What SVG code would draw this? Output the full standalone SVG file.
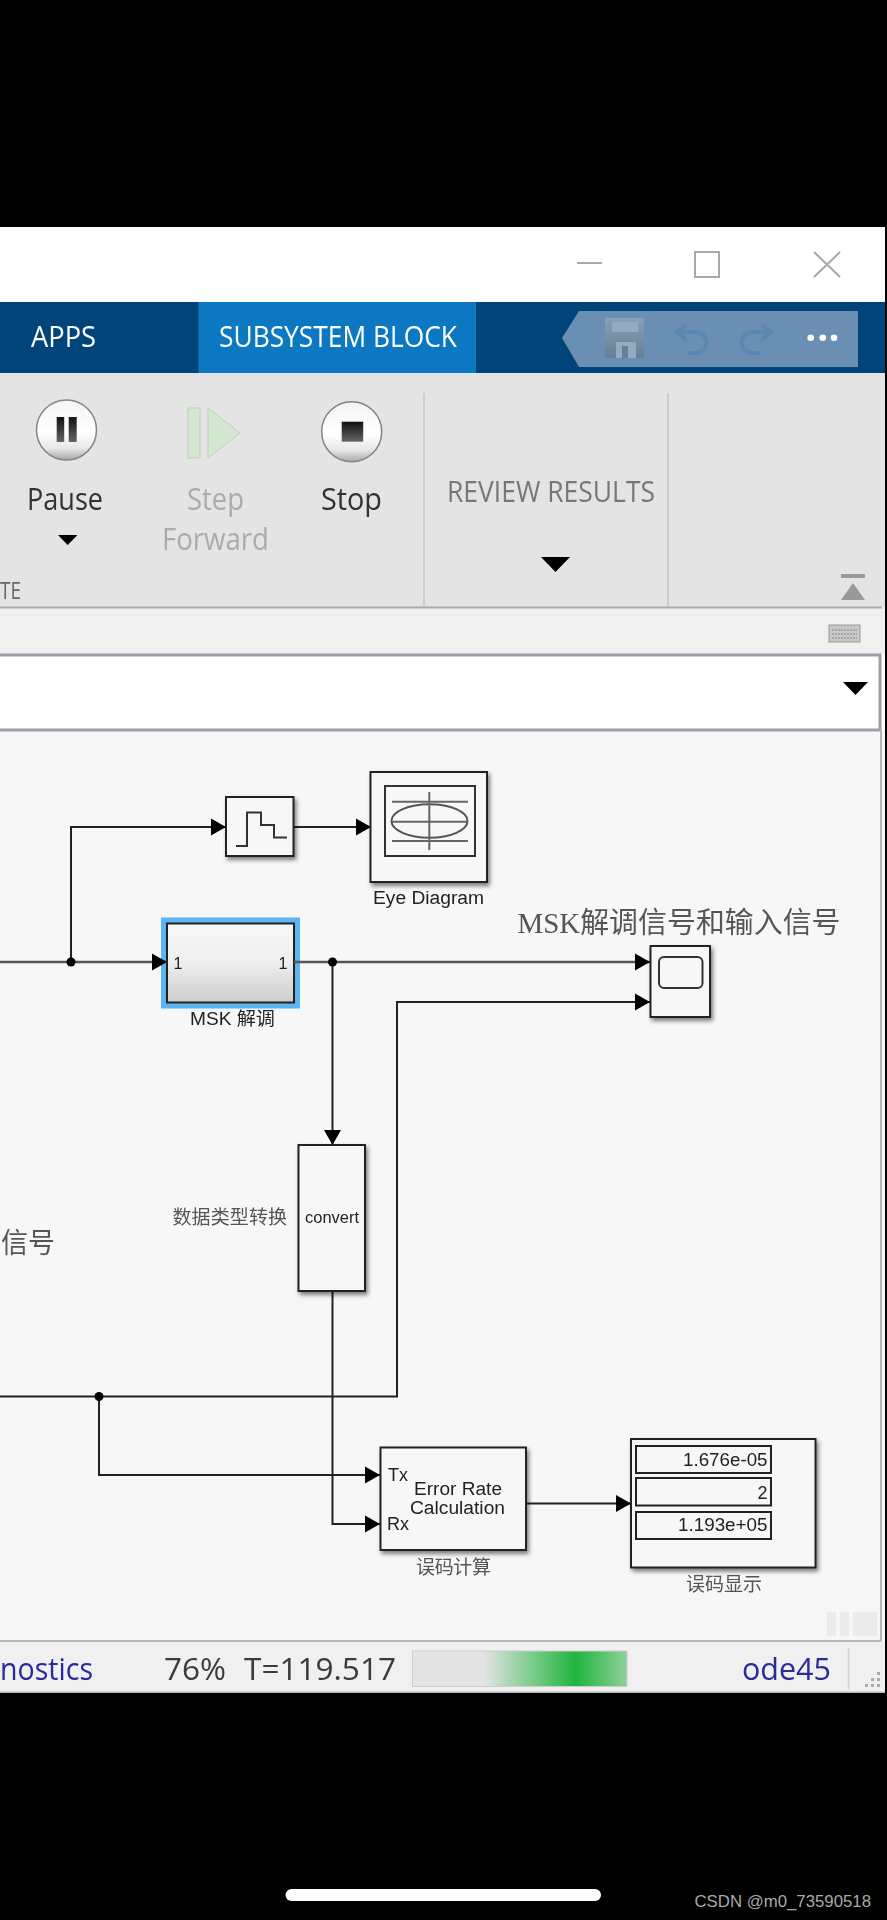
<svg xmlns="http://www.w3.org/2000/svg" width="887" height="1920" viewBox="0 0 887 1920">
<defs>
<style>
.ui{font-family:"Open Sans","Liberation Sans",sans-serif;}
.ar{font-family:"Liberation Sans","Noto Sans CJK SC",sans-serif;fill:#222;}
.se{font-family:"Liberation Serif","Noto Sans CJK SC",serif;fill:#555;}
.blk{fill:#f7f7f7;stroke:#222;stroke-width:2;filter:url(#sh);}
.w{fill:none;stroke:#222;stroke-width:2;}
.wg{fill:none;stroke:#555;stroke-width:2.600;}
.dot{fill:#000;}
</style>
<filter id="soft" x="0" y="0" width="100%" height="100%" filterUnits="objectBoundingBox"><feGaussianBlur stdDeviation="0.75"/></filter>
<filter id="sh" x="-15%" y="-15%" width="130%" height="130%"><feDropShadow dx="2" dy="3" stdDeviation="2" flood-color="#000" flood-opacity="0.5"/></filter>
<marker id="ah" markerUnits="userSpaceOnUse" markerWidth="16" markerHeight="18" refX="15" refY="9" orient="auto"><path d="M0 0.500L15 9L0 17.500Z" fill="#000"/></marker>
<linearGradient id="msk" x1="0" y1="0" x2="0" y2="1"><stop offset="0" stop-color="#f8f8f8"/><stop offset="0.5" stop-color="#eee"/><stop offset="1" stop-color="#ccc"/></linearGradient>
<linearGradient id="btn" x1="0" y1="0" x2="0" y2="1"><stop offset="0" stop-color="#f4f4f4"/><stop offset="0.55" stop-color="#fff"/><stop offset="0.8" stop-color="#e8e8e8"/><stop offset="1" stop-color="#a8a8a8"/></linearGradient>
<linearGradient id="dk" x1="0" y1="0" x2="0" y2="1"><stop offset="0" stop-color="#111"/><stop offset="1" stop-color="#666"/></linearGradient>
<linearGradient id="sv" x1="0" y1="0" x2="0" y2="1"><stop offset="0" stop-color="#86a1b8"/><stop offset="1" stop-color="#667f92"/></linearGradient>
<linearGradient id="prog" x1="0" y1="0" x2="1" y2="0"><stop offset="0" stop-color="#e4e4e4"/><stop offset="0.33" stop-color="#e4e4e4"/><stop offset="0.76" stop-color="#1fb53d"/><stop offset="1" stop-color="#8ed09b"/></linearGradient>
</defs>
<rect width="887" height="1920" fill="#000"/>
<g filter="url(#soft)">
<g id="window-bg">
<rect x="0" y="227" width="885" height="75" fill="#fff"/>
<rect x="0" y="302" width="885" height="71" fill="#04457a"/>
<rect x="198.500" y="302" width="277.500" height="71" fill="#0a78c2"/>
<rect x="0" y="373" width="885" height="234" fill="#e4e4e4"/>
<rect x="0" y="607" width="885" height="47" fill="#f0f0f0"/>
<rect x="0" y="654" width="885" height="76" fill="#fff"/>
<rect x="0" y="730" width="885" height="911" fill="#f7f7f7"/>
<rect x="0" y="1641" width="885" height="52" fill="#f0f0f0"/>
<path d="M0 607.500H882" stroke="#aaa" stroke-width="2"/>
<path d="M0 655H880V730H0" fill="none" stroke="#9aa0a8" stroke-width="3"/>
<path d="M881 730V1641M0 1641H881M0 1692.500H885" fill="none" stroke="#b5b5b5" stroke-width="2"/>
<path d="M424 393V607M668 393V607" stroke="#c4c4c4" stroke-width="1.500"/>
</g>
<g id="window-controls" fill="none" stroke="#a8a8a8" stroke-width="2">
<path d="M577 263H602"/>
<rect x="695" y="252" width="24" height="25"/>
<path d="M814 252L840 277M840 252L814 277"/>
</g>
<g id="tabs">
<text class="ui" x="31" y="347" font-size="30" fill="#fff" textLength="65" lengthAdjust="spacingAndGlyphs">APPS</text>
<text class="ui" x="219" y="347" font-size="30" fill="#fff" textLength="238" lengthAdjust="spacingAndGlyphs">SUBSYSTEM BLOCK</text>
</g>
<g id="quick-access">
<path d="M562 338L579 311H858V367H579Z" fill="#6a8fb2"/>
<path d="M605 318H644V358H605Z" fill="url(#sv)"/>
<rect x="612" y="322" width="26" height="10" fill="#93acc2"/>
<rect x="616" y="342" width="20" height="16" fill="#93acc2"/>
<rect x="622" y="346" width="6" height="12" fill="#667f92"/>
<path d="M678 332H696A10.500 10.500 0 0 1 696 353H688M686 325L677 332L686 340" fill="none" stroke="#5a88b0" stroke-width="4"/>
<path d="M770 332H752A10.500 10.500 0 0 0 752 353H760M762 325L771 332L762 340" fill="none" stroke="#5a88b0" stroke-width="4"/>
<circle cx="810.700" cy="337.700" r="3.300" fill="#fff"/><circle cx="822.700" cy="337.700" r="3.300" fill="#fff"/><circle cx="834" cy="337.700" r="3.300" fill="#fff"/>
</g>
<g id="pause-button">
<circle cx="66.500" cy="430" r="30" fill="url(#btn)" stroke="#858585" stroke-width="1.500"/>
<rect x="56.700" y="417" width="7.500" height="25" fill="url(#dk)"/>
<rect x="68.700" y="417" width="8" height="25" fill="url(#dk)"/>
<text class="ui" x="27" y="510" font-size="31" fill="#333" textLength="76" lengthAdjust="spacingAndGlyphs">Pause</text>
<path d="M58 535H77.500L67.700 545Z" fill="#000"/>
</g>
<g id="step-forward">
<rect x="188" y="408" width="12" height="50" fill="#d3e6cf" stroke="#bcd2b8"/>
<path d="M208 408L240 433L208 458Z" fill="#d3e6cf" stroke="#bcd2b8"/>
<text class="ui" x="187" y="510" font-size="31" fill="#ababab" textLength="57" lengthAdjust="spacingAndGlyphs">Step</text>
<text class="ui" x="162" y="550" font-size="31" fill="#ababab" textLength="107" lengthAdjust="spacingAndGlyphs">Forward</text>
</g>
<g id="stop-button">
<circle cx="351.700" cy="431.700" r="30" fill="url(#btn)" stroke="#858585" stroke-width="1.500"/>
<rect x="341.700" y="421.700" width="21.500" height="20" fill="url(#dk)"/>
<text class="ui" x="321" y="510" font-size="31" fill="#333" textLength="61" lengthAdjust="spacingAndGlyphs">Stop</text>
</g>
<g id="review-results">
<text class="ui" x="447" y="502" font-size="29" fill="#777" textLength="208" lengthAdjust="spacingAndGlyphs">REVIEW RESULTS</text>
<path d="M541 557H570L555.500 572Z" fill="#000"/>
</g>
<text class="ui" x="0" y="599" font-size="24" fill="#666" textLength="21" lengthAdjust="spacingAndGlyphs">TE</text>
<g id="collapse" fill="#999"><rect x="841" y="574" width="24" height="4"/><path d="M853 583L865 600H841Z"/></g>
<g id="keyboard"><rect x="829" y="625" width="31" height="17" fill="#c8c8c8" stroke="#999"/><path d="M832 630H857M832 634H857M832 638H857" stroke="#888" stroke-dasharray="2 1"/></g>
<path id="address-arrow" d="M843 682H868L855.500 695Z" fill="#000"/>

<g id="msk-demod">
<rect x="161" y="917.500" width="139" height="91" fill="#5cb4f2"/>
<rect x="167" y="923.500" width="127" height="79" fill="url(#msk)" stroke="#222" stroke-width="2"/>
<text class="ar" x="178" y="969" font-size="16" text-anchor="middle">1</text>
<text class="ar" x="283" y="969" font-size="16" text-anchor="middle">1</text>
<text class="ar" x="232.500" y="1025" font-size="18" text-anchor="middle" textLength="85" lengthAdjust="spacingAndGlyphs">MSK 解调</text>
</g>
<g id="connectors">
<path class="wg" d="M0 962H167" marker-end="url(#ah)"/>
<path class="w" d="M71 962V827H226" marker-end="url(#ah)"/>
<path class="w" d="M293 827H371" marker-end="url(#ah)"/>
<path class="wg" d="M294 962H650" marker-end="url(#ah)"/>
<path class="w" d="M332.500 962V1145" marker-end="url(#ah)"/>
<path class="w" d="M0 1396.500H397V1002H650" marker-end="url(#ah)"/>
<path class="w" d="M332.500 1291V1524H380" marker-end="url(#ah)"/>
<path class="w" d="M99 1396.500V1475H380" marker-end="url(#ah)"/>
<path class="w" d="M526 1503.500H631" marker-end="url(#ah)"/>
<circle class="dot" cx="71" cy="962" r="4.500"/>
<circle class="dot" cx="332.500" cy="962" r="4.500"/>
<circle class="dot" cx="99" cy="1396.500" r="4.500"/>
</g>

<g id="zoh">
<rect class="blk" x="226" y="797" width="67.500" height="59"/>
<path d="M236 846H247V812.500H261V825H274V837.500H287" fill="none" stroke="#333" stroke-width="2"/>
</g>
<g id="eye-diagram">
<rect class="blk" x="370.500" y="772" width="116.500" height="110"/>
<rect x="385" y="786" width="90" height="70" fill="none" stroke="#333" stroke-width="2"/>
<ellipse cx="429.500" cy="821" rx="38" ry="16.700" fill="none" stroke="#555" stroke-width="2"/>
<path d="M392 801.700H468M392 821.700H468M392 841H468M429.300 792V850" fill="none" stroke="#666" stroke-width="2"/>
<text class="ar" x="373" y="904" font-size="18" textLength="111" lengthAdjust="spacingAndGlyphs">Eye Diagram</text>
</g>
<g id="scope">
<rect class="blk" x="650.500" y="946" width="59.500" height="71"/>
<rect x="659" y="957" width="43.500" height="31" rx="5" fill="none" stroke="#333" stroke-width="2"/>
</g>
<text id="scope-title" class="se" x="517.500" y="933" font-size="29" textLength="323" lengthAdjust="spacingAndGlyphs">MSK解调信号和输入信号</text>
<text id="partial-title" class="se" x="1" y="1253" font-size="28" textLength="54" lengthAdjust="spacingAndGlyphs">信号</text>
<g id="convert">
<rect class="blk" x="298.500" y="1145" width="66.500" height="146"/>
<text class="ar" x="305" y="1223" font-size="16" textLength="54" lengthAdjust="spacingAndGlyphs">convert</text>
<text class="se" x="172.500" y="1224" font-size="19" textLength="114.500">数据类型转换</text>
</g>
<g id="error-rate">
<rect class="blk" x="380.500" y="1447.500" width="145.500" height="102.500"/>
<text class="ar" x="388" y="1481" font-size="18">Tx</text>
<text class="ar" x="387" y="1530" font-size="18">Rx</text>
<text class="ar" x="414" y="1494.500" font-size="18" textLength="88" lengthAdjust="spacingAndGlyphs">Error Rate</text>
<text class="ar" x="410" y="1513.500" font-size="18" textLength="95" lengthAdjust="spacingAndGlyphs">Calculation</text>
<text class="se" x="416" y="1573.500" font-size="19" textLength="75">误码计算</text>
</g>
<g id="error-display">
<rect class="blk" x="631" y="1439" width="184.500" height="128.500"/>
<rect x="636" y="1446" width="135" height="27" fill="#f7f7f7" stroke="#222" stroke-width="2"/>
<rect x="636" y="1478" width="135" height="27.500" fill="#f7f7f7" stroke="#222" stroke-width="2"/>
<rect x="636" y="1512" width="135" height="27" fill="#f7f7f7" stroke="#222" stroke-width="2"/>
<text class="ar" x="683" y="1466" font-size="18" textLength="84.500" lengthAdjust="spacingAndGlyphs">1.676e-05</text>
<text class="ar" x="767.500" y="1498.500" font-size="18" text-anchor="end">2</text>
<text class="ar" x="678" y="1530.500" font-size="18" textLength="89.500" lengthAdjust="spacingAndGlyphs">1.193e+05</text>
<text class="se" x="686" y="1590.500" font-size="19" textLength="76">误码显示</text>
</g>
<g id="canvas-grip" fill="#ebebeb">
<rect x="827" y="1612" width="9" height="24"/><rect x="840" y="1612" width="9" height="24"/><rect x="853" y="1612" width="24" height="24"/>
</g>
<g id="status-bar">
<text class="ui" x="0" y="1680" font-size="31" fill="#2a2a9a" textLength="93" lengthAdjust="spacingAndGlyphs">nostics</text>
<text class="ui" x="164" y="1680" font-size="31" fill="#3a3a3a" textLength="62" lengthAdjust="spacingAndGlyphs">76%</text>
<text class="ui" x="244" y="1680" font-size="31" fill="#3a3a3a" textLength="152" lengthAdjust="spacingAndGlyphs">T=119.517</text>
<rect x="412.500" y="1651" width="214.500" height="35.500" fill="url(#prog)" stroke="#ccc"/>
<text class="ui" x="742" y="1680" font-size="31" fill="#2a2a9a" textLength="89" lengthAdjust="spacingAndGlyphs">ode45</text>
<path d="M848.500 1648V1689" stroke="#d0d0d0" stroke-width="1.500"/>
<path d="M877 1672h3v3h-3zM871 1678h3v3h-3zM877 1678h3v3h-3zM865 1684h3v3h-3zM871 1684h3v3h-3zM877 1684h3v3h-3z" fill="#aaa"/>
</g>
</g>
<rect id="home-bar" x="285.500" y="1889" width="315.500" height="12" rx="6" fill="#fff"/>
<text id="watermark" x="694.500" y="1907" font-family="Liberation Sans, sans-serif" font-size="17" fill="#aaa" textLength="176.500" lengthAdjust="spacingAndGlyphs">CSDN @m0_73590518</text>
</svg>
